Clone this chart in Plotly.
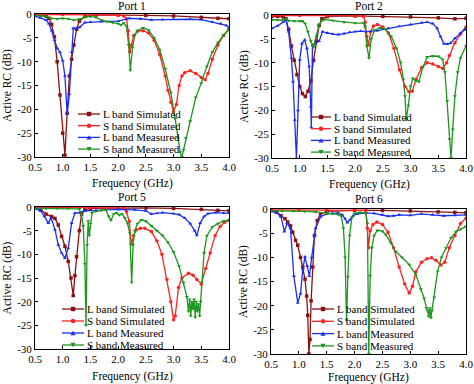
import plotly.graph_objects as go

W, H = 474, 384
FONT = "Liberation Serif"

series_names = ["L band Simulated", "S band Simulated", "L band Measured", "S band Measured"]
series_colors = ["#8B1212", "#FF2222", "#1A2EF5", "#1C961C"]
series_symbols = ["square", "circle", "triangle-up", "triangle-down"]
port_titles = ["Port 1", "Port 2", "Port 5", "Port 6"]
x_title = "Frequency (GHz)"
y_title = "Active RC (dB)"

x_tickvals = [0.5, 1.0, 1.5, 2.0, 2.5, 3.0, 3.5, 4.0]
x_ticktext = ["0.5", "1.0", "1.5", "2.0", "2.5", "3.0", "3.5", "4.0"]
y_tickvals = [0, -5, -10, -15, -20, -25, -30]
y_ticktext = ["0", "-5", "-10", "-15", "-20", "-25", "-30"]

# ---------------- Port 1 ----------------
p1_lsim_f = [0.5, 0.6, 0.7, 0.75, 0.8, 0.85, 0.9, 0.95, 1.0, 1.04, 1.08, 1.12, 1.16, 1.2, 1.25, 1.3, 1.4, 1.6, 2.0, 2.5, 3.0, 3.5, 3.8, 4.0]
p1_lsim_db = [-0.1, -0.2, -0.5, -0.9, -2.2, -4.8, -10, -17, -25, -29.6, -20.8, -13, -9.5, -6.5, -3.2, -1.5, -0.5, -0.2, -0.2, -0.3, -0.4, -0.7, -0.9, -1.0]
p1_ssim_f = [0.5, 1.0, 1.5, 2.0, 2.1, 2.15, 2.18, 2.21, 2.24, 2.28, 2.35, 2.45, 2.55, 2.65, 2.75, 2.85, 2.9, 2.95, 3.0, 3.05, 3.1, 3.15, 3.2, 3.3, 3.4, 3.5, 3.57, 3.62, 3.7, 3.8, 3.9, 4.0]
p1_ssim_db = [-0.1, -0.1, -0.1, -0.2, -0.4, -1.0, -3.5, -7.9, -6.5, -4.5, -3.6, -3.5, -4.0, -5.5, -8.5, -13, -16, -18.5, -20.5, -19, -15, -13, -12.3, -11.9, -12.5, -13.3, -13.8, -12.5, -9.5, -6.5, -4.5, -3.2]
p1_lmeas_f = [0.5, 0.6, 0.7, 0.75, 0.8, 0.85, 0.9, 0.95, 1.0, 1.04, 1.08, 1.12, 1.16, 1.19, 1.25, 1.3, 1.4, 1.5, 1.7, 2.0, 2.2, 2.4, 2.6, 2.8, 3.0, 3.3, 3.5, 3.7, 3.85, 3.95, 4.0]
p1_lmeas_db = [-0.5, -0.8, -1.3, -2.0, -3.5, -5.5, -7.2, -8.0, -9.8, -13, -21, -16.8, -8, -3.0, -3.0, -2.8, -1.8, -1.7, -1.6, -1.5, -0.9, -1.0, -1.25, -1.2, -1.1, -1.1, -1.2, -1.7, -2.0, -2.4, -2.9]
p1_smeas_f = [0.5, 0.6, 0.7, 0.8, 0.9, 1.0, 1.1, 1.2, 1.3, 1.4, 1.5, 1.6, 1.7, 1.8, 1.9, 2.0, 2.05, 2.1, 2.15, 2.19, 2.22, 2.26, 2.3, 2.35, 2.45, 2.55, 2.65, 2.75, 2.85, 2.95, 3.03, 3.08, 3.12, 3.15, 3.18, 3.22, 3.3, 3.4, 3.5, 3.6, 3.7, 3.8, 3.9, 4.0]
p1_smeas_db = [-0.3, -0.4, -0.5, -0.9, -1.0, -0.9, -1.0, -1.3, -1.1, -0.7, -0.5, -0.7, -1.3, -1.6, -1.8, -2.0, -2.3, -1.9, -2.5, -6.5, -11.8, -7.0, -4.5, -3.5, -2.9, -3.4, -5, -7.5, -11.5, -16.5, -22, -26, -29, -30, -28.5, -26, -22.5, -17.5, -14.5, -11, -8, -6, -4.5, -3.2]

# ---------------- Port 2 ----------------
p2_lsim_f = [0.5, 0.6, 0.7, 0.75, 0.8, 0.85, 0.9, 0.95, 1.0, 1.05, 1.1, 1.15, 1.2, 1.25, 1.3, 1.35, 1.4, 1.5, 2.0, 2.5, 3.0, 3.5, 3.8, 4.0]
p2_lsim_db = [-0.3, -0.3, -0.4, -0.8, -3.0, -6.5, -9.5, -12.5, -15, -16.5, -17.1, -16, -13.8, -9.5, -5.5, -2.2, -0.8, -0.3, -0.2, -0.3, -0.4, -0.6, -0.8, -0.7]
p2_ssim_f = [0.5, 1.0, 1.5, 2.0, 2.15, 2.18, 2.21, 2.24, 2.28, 2.33, 2.4, 2.5, 2.6, 2.7, 2.8, 2.9, 2.97, 3.03, 3.1, 3.2, 3.3, 3.4, 3.5, 3.58, 3.65, 3.7, 3.8, 3.9, 4.0]
p2_ssim_db = [-0.1, -0.1, -0.1, -0.1, -0.3, -1.5, -4.5, -6.3, -3.5, -2.3, -2.0, -2.5, -3.8, -7, -11.5, -15, -16.1, -16, -13.5, -11, -10, -10.3, -10.8, -11.2, -10, -8.5, -5.8, -4, -2.5]
p2_lmeas_f = [0.5, 0.6, 0.7, 0.75, 0.8, 0.85, 0.88, 0.91, 0.94, 0.97, 1.0, 1.04, 1.09, 1.13, 1.17, 1.2, 1.21, 1.23, 1.28, 1.35, 1.41, 1.5, 1.6, 1.7, 1.8, 1.9, 2.0, 2.1, 2.2, 2.4, 2.6, 2.8, 3.0, 3.2, 3.3, 3.4, 3.48, 3.54, 3.6, 3.66, 3.72, 3.8, 3.9, 3.97, 4.0]
p2_lmeas_db = [-2.8, -2.3, -1.5, -1.0, -3.5, -9, -14, -22, -30, -20, -9.4, -6, -5.2, -7, -10.8, -19.2, -23.6, -6.3, -6.0, -5.5, -3.5, -3.8, -4.0, -4.1, -3.9, -3.6, -3.5, -3.4, -3.5, -3.3, -2.8, -2.4, -2.0, -1.6, -1.5, -1.8, -2.8, -4.5, -6.0, -6.1, -5.9, -4.9, -3.8, -3.1, -2.8]
p2_smeas_f = [0.5, 0.6, 0.7, 0.76, 0.8, 0.9, 1.0, 1.05, 1.1, 1.15, 1.2, 1.25, 1.3, 1.35, 1.4, 1.45, 1.6, 1.8, 2.0, 2.15, 2.18, 2.21, 2.25, 2.29, 2.35, 2.45, 2.55, 2.65, 2.75, 2.82, 2.87, 2.9, 2.92, 2.96, 3.0, 3.04, 3.1, 3.15, 3.22, 3.3, 3.4, 3.5, 3.58, 3.62, 3.66, 3.7, 3.73, 3.76, 3.8, 3.85, 3.9, 4.0]
p2_smeas_db = [-1.0, -1.0, -1.1, -0.8, -1.2, -1.3, -1.3, -1.3, -1.8, -3.5, -5.5, -6.7, -4.5, -2.0, -1.2, -0.9, -1.2, -1.5, -1.7, -1.7, -2.5, -6.5, -9.0, -5.0, -3.2, -2.7, -3.0, -4.5, -7, -10, -13.5, -17, -22, -19, -15, -13.3, -13.8, -14, -11, -8.8, -8.6, -8.7, -9.3, -12, -18, -26, -30, -24, -17, -12, -9, -6.5]

# ---------------- Port 5 ----------------
p5_lsim_f = [0.5, 0.6, 0.7, 0.8, 0.86, 0.92, 0.98, 1.04, 1.1, 1.15, 1.19, 1.22, 1.25, 1.3, 1.34, 1.4, 1.5, 2.0, 2.5, 3.0, 3.5, 3.8, 4.0]
p5_lsim_db = [-0.2, -0.5, -1.5, -2.0, -2.4, -3.8, -6.2, -8.3, -11.5, -15, -18.7, -14.5, -10.5, -5, -1.5, -0.6, -0.3, -0.2, -0.2, -0.3, -0.5, -0.7, -0.8]
p5_ssim_f = [0.5, 1.0, 1.5, 2.0, 2.1, 2.15, 2.2, 2.24, 2.28, 2.33, 2.4, 2.48, 2.6, 2.7, 2.79, 2.88, 2.95, 3.0, 3.03, 3.09, 3.15, 3.27, 3.35, 3.42, 3.5, 3.58, 3.66, 3.75, 3.84, 3.92, 4.0]
p5_ssim_db = [-0.1, -0.1, -0.1, -0.2, -0.3, -1.0, -3.0, -7.8, -6, -4.8, -4.5, -4.5, -5.2, -7.2, -10, -15.3, -20, -23.8, -23, -17, -15, -14, -14.4, -15.3, -16.3, -13, -9.7, -6, -4.1, -3.2, -2.8]
p5_lmeas_f = [0.5, 0.6, 0.67, 0.74, 0.79, 0.86, 0.92, 0.98, 1.04, 1.1, 1.16, 1.22, 1.3, 1.4, 1.6, 2.0, 2.3, 2.5, 2.6, 2.7, 2.8, 3.0, 3.1, 3.2, 3.3, 3.38, 3.42, 3.48, 3.55, 3.62, 3.75, 3.9, 4.0]
p5_lmeas_db = [-0.3, -0.8, -2.0, -3.4, -2.3, -4.8, -8, -9.7, -10.8, -8.7, -3.4, -1.3, -1.2, -0.8, -0.7, -0.5, -0.6, -0.8, -1.5, -1.3, -1.2, -1.4, -1.6, -2.3, -3.5, -5, -6.0, -3.4, -2.0, -1.4, -1.2, -1.3, -1.3]
p5_smeas_f = [0.5, 0.7, 0.9, 1.1, 1.3, 1.34, 1.37, 1.4, 1.42, 1.44, 1.46, 1.48, 1.5, 1.53, 1.6, 1.7, 1.78, 1.83, 1.87, 1.92, 1.97, 2.02, 2.07, 2.12, 2.17, 2.21, 2.245, 2.27, 2.3, 2.35, 2.42, 2.5, 2.6, 2.7, 2.8, 2.9, 3.0, 3.1, 3.18, 3.24, 3.27, 3.29, 3.31, 3.33, 3.35, 3.37, 3.39, 3.41, 3.43, 3.45, 3.47, 3.49, 3.51, 3.55, 3.6, 3.7, 3.8, 3.9, 4.0]
p5_smeas_db = [-0.3, -0.3, -0.3, -0.3, -0.4, -1.6, -4, -12, -25, -8, -3, -6, -3.5, -1.2, -0.9, -0.7, -0.6, -2.0, -2.8, -1.5, -1.2, -1.7, -1.5, -2.3, -3.5, -5.5, -15.9, -8, -5, -3.5, -2.7, -3.0, -4.0, -5.0, -6, -7.5, -9.5, -12.5, -16, -19, -22, -19.5, -23, -20, -21.5, -19.5, -23.3, -20, -22, -20.5, -23, -20, -16, -9.7, -6.1, -4.2, -3.5, -3.0, -2.8]

# ---------------- Port 6 ----------------
p6_lsim_f = [0.5, 0.6, 0.68, 0.75, 0.8, 0.85, 0.89, 0.94, 0.98, 1.03, 1.07, 1.11, 1.14, 1.16, 1.18, 1.2, 1.22, 1.25, 1.28, 1.33, 1.39, 1.5, 2.0, 2.5, 3.0, 3.5, 3.8, 4.0]
p6_lsim_db = [-0.2, -0.6, -1.4, -2.0, -2.7, -3.5, -4.8, -6.5, -7.5, -10, -12, -14.5, -18, -22, -30, -27, -19, -12, -5.5, -2.4, -1.0, -0.5, -0.3, -0.3, -0.4, -0.6, -0.7, -0.8]
p6_ssim_f = [0.5, 1.0, 1.5, 2.0, 2.2, 2.23, 2.25, 2.28, 2.33, 2.4, 2.5, 2.6, 2.7, 2.8, 2.9, 2.98, 3.04, 3.1, 3.2, 3.3, 3.38, 3.46, 3.55, 3.62, 3.7, 3.8, 3.9, 4.0]
p6_ssim_db = [-0.2, -0.2, -0.2, -0.2, -0.3, -4, -8, -4.5, -3.2, -2.7, -3.2, -4.8, -8, -12, -15.5, -17.4, -16, -13, -11, -10.3, -10.1, -10.6, -11.6, -11, -8, -5.5, -3, -1.9]
p6_lmeas_f = [0.5, 0.6, 0.68, 0.74, 0.79, 0.85, 0.91, 0.98, 1.03, 1.07, 1.11, 1.15, 1.19, 1.23, 1.3, 1.39, 1.5, 1.6, 1.7, 1.78, 1.83, 1.87, 1.92, 1.97, 2.05, 2.2, 2.35, 2.5, 2.6, 2.7, 2.8, 3.0, 3.2, 3.4, 3.6, 3.8, 4.0]
p6_lmeas_db = [-0.5, -0.8, -1.6, -4.7, -2.9, -4.0, -13.9, -19.4, -17.5, -12.5, -9.9, -11.8, -13.9, -10, -4, -1.6, -1.0, -0.9, -0.8, -1.2, -2.0, -2.8, -2.2, -1.4, -1.0, -0.8, -0.9, -1.2, -1.5, -1.4, -1.2, -1.3, -1.0, -1.2, -1.4, -1.3, -1.2]
p6_smeas_f = [0.5, 0.7, 0.9, 1.1, 1.3, 1.5, 1.6, 1.7, 1.76, 1.8, 1.83, 1.855, 1.88, 1.91, 1.95, 2.0, 2.1, 2.2, 2.23, 2.255, 2.28, 2.31, 2.35, 2.41, 2.5, 2.56, 2.65, 2.74, 2.85, 2.98, 3.1, 3.19, 3.25, 3.29, 3.31, 3.33, 3.35, 3.37, 3.39, 3.43, 3.49, 3.56, 3.64, 3.73, 3.82, 3.9, 4.0]
p6_smeas_db = [-0.4, -0.4, -0.4, -0.5, -0.6, -0.9, -1.0, -1.1, -1.5, -4, -10, -23, -14, -5.5, -1.8, -0.9, -0.7, -0.8, -3, -30, -13.8, -8, -5.5, -4.4, -4.6, -5.3, -7, -8.8, -10, -11.5, -13.6, -16.6, -18.5, -20.5, -21, -22.2, -20.5, -22.5, -21, -18.3, -12.9, -10, -8.1, -6, -4.7, -4.2, -3.6]

ports = [
    [(p1_lsim_f, p1_lsim_db), (p1_ssim_f, p1_ssim_db), (p1_lmeas_f, p1_lmeas_db), (p1_smeas_f, p1_smeas_db)],
    [(p2_lsim_f, p2_lsim_db), (p2_ssim_f, p2_ssim_db), (p2_lmeas_f, p2_lmeas_db), (p2_smeas_f, p2_smeas_db)],
    [(p5_lsim_f, p5_lsim_db), (p5_ssim_f, p5_ssim_db), (p5_lmeas_f, p5_lmeas_db), (p5_smeas_f, p5_smeas_db)],
    [(p6_lsim_f, p6_lsim_db), (p6_ssim_f, p6_ssim_db), (p6_lmeas_f, p6_lmeas_db), (p6_smeas_f, p6_smeas_db)],
]

# layout geometry in pixels: (left, right, top, bottom) of each plot frame
frames = [(35, 229, 14, 157), (272, 466, 15, 158), (35, 229, 207, 349), (271, 466, 209, 354)]
# y of the centre of each x-axis title, and of each panel title
xtitle_y = [183, 184, 376, 377]
ptitle_y = [6, 6, 197, 199]
# legend: sample line x0, x1, first row y, row step
legend_geo = [(78, 100, 114, 11.7), (311, 331, 117, 11.7), (62, 84, 309, 12), (312, 334, 309, 12.3)]


def px(x):
    return x / W


def py(y):
    return 1 - y / H


fig = go.Figure()
layout = dict(
    width=W, height=H, margin=dict(l=0, r=0, t=0, b=0, autoexpand=False),
    paper_bgcolor="white", plot_bgcolor="white",
    font=dict(family=FONT, size=11, color="black"),
    showlegend=False,
)
annotations = []
shapes = []

for i, (series, title, fr, lg) in enumerate(zip(ports, port_titles, frames, legend_geo)):
    n = "" if i == 0 else str(i + 1)
    xa, ya = "x" + n, "y" + n
    for (f, db), name, col, sym in zip(series, series_names, series_colors, series_symbols):
        fig.add_trace(go.Scatter(
            x=f, y=db, mode="lines+markers", name=name,
            line=dict(color=col, width=1.3),
            marker=dict(symbol=sym, size=3.5, color=col),
            xaxis=xa, yaxis=ya, showlegend=False,
        ))
    l, r, t, b = fr
    axcommon = dict(showline=True, linecolor="black", linewidth=1, mirror=True, automargin=False,
                    showgrid=False, zeroline=False, ticks="inside", ticklen=3,
                    tickcolor="black", tickfont=dict(family=FONT, size=11))
    layout["xaxis" + n] = dict(axcommon, domain=[px(l), px(r)], anchor=ya, range=[0.5, 4.0],
                               tickvals=x_tickvals, ticktext=x_ticktext)
    layout["yaxis" + n] = dict(axcommon, domain=[py(b), py(t)], anchor=xa, range=[-30, 0],
                               tickvals=y_tickvals, ticktext=y_ticktext,
                               title=dict(text=y_title, font=dict(family=FONT, size=11.5), standoff=3))
    annotations.append(dict(text=x_title, x=px((l + r) / 2), y=py(xtitle_y[i]), xref="paper", yref="paper",
                            showarrow=False, xanchor="center", yanchor="middle",
                            font=dict(family=FONT, size=11.5, color="black")))
    annotations.append(dict(text=title, x=px((l + r) / 2), y=py(ptitle_y[i]), xref="paper", yref="paper",
                            showarrow=False, xanchor="center", yanchor="middle",
                            font=dict(family=FONT, size=11.5, color="black")))
    # compact in-plot legend
    x0, x1, y0, step = lg
    for k, (name, col, sym) in enumerate(zip(series_names, series_colors, series_symbols)):
        yy = y0 + k * step
        shapes.append(dict(type="line", xref="paper", yref="paper", x0=px(x0), x1=px(x1),
                           y0=py(yy), y1=py(yy), line=dict(color=col, width=1.3)))
        cx = (x0 + x1) / 2
        s = 2.2
        if sym == "square":
            shapes.append(dict(type="rect", xref="paper", yref="paper", x0=px(cx - s), x1=px(cx + s),
                               y0=py(yy + s), y1=py(yy - s), fillcolor=col, line=dict(width=0)))
        elif sym == "circle":
            shapes.append(dict(type="circle", xref="paper", yref="paper", x0=px(cx - s), x1=px(cx + s),
                               y0=py(yy + s), y1=py(yy - s), fillcolor=col, line=dict(width=0)))
        else:
            d = -1 if sym == "triangle-up" else 1
            path = "M {:.4f} {:.4f} L {:.4f} {:.4f} L {:.4f} {:.4f} Z".format(
                px(cx - s - 0.4), py(yy - d * s), px(cx + s + 0.4), py(yy - d * s), px(cx), py(yy + d * s))
            shapes.append(dict(type="path", xref="paper", yref="paper", path=path,
                               fillcolor=col, line=dict(width=0)))
        annotations.append(dict(text=name, x=px(x1 + 1), y=py(yy), xref="paper", yref="paper",
                                showarrow=False, xanchor="left", yanchor="middle",
                                font=dict(family=FONT, size=11, color="black")))

layout["annotations"] = annotations
layout["shapes"] = shapes
fig.update_layout(**layout)
fig.write_html("out.html", config={"displayModeBar": False},
               post_script="document.body.style.margin='0px';document.body.style.overflow='hidden';")
